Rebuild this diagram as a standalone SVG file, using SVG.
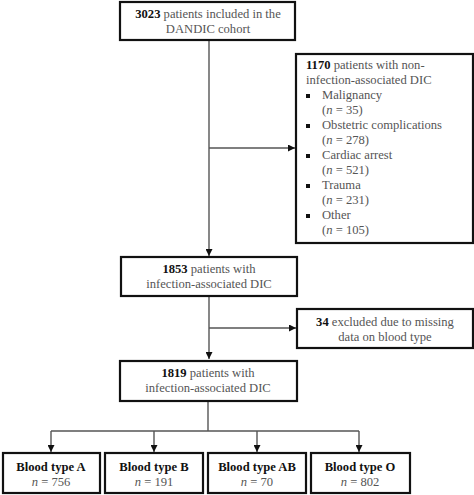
<svg xmlns="http://www.w3.org/2000/svg" width="474" height="495" viewBox="0 0 474 495" font-family="'Liberation Serif', 'DejaVu Serif', serif">
<style>
.box{fill:#fff;stroke:#111;stroke-width:2.2}
text{font-family:'Liberation Serif','DejaVu Serif',serif;font-size:12.6px;fill:#555}
.b{font-weight:bold;fill:#111}
.c{text-anchor:middle}
.ln{stroke:#555;stroke-width:1.4;fill:none}
</style>
<defs>
<marker id="ah" viewBox="0 0 10 10" refX="10" refY="5" markerWidth="7" markerHeight="7" markerUnits="userSpaceOnUse" orient="auto">
<path d="M0,0L10,5L0,10z" fill="#111"/>
</marker>
</defs>
<g id="connectors">
<line class="ln" x1="209" y1="40" x2="209" y2="256" marker-end="url(#ah)"/>
<line class="ln" x1="209" y1="148" x2="295" y2="148" marker-end="url(#ah)"/>
<line class="ln" x1="209" y1="296" x2="209" y2="359" marker-end="url(#ah)"/>
<line class="ln" x1="209" y1="328" x2="296" y2="328" marker-end="url(#ah)"/>
<line class="ln" x1="208" y1="401" x2="208" y2="431"/>
<line class="ln" x1="51" y1="431" x2="359" y2="431"/>
<line class="ln" x1="51" y1="431" x2="51" y2="452" marker-end="url(#ah)"/>
<line class="ln" x1="154" y1="431" x2="154" y2="452" marker-end="url(#ah)"/>
<line class="ln" x1="257" y1="431" x2="257" y2="452" marker-end="url(#ah)"/>
<line class="ln" x1="359" y1="431" x2="359" y2="452" marker-end="url(#ah)"/>
</g>
<g id="n3023">
<rect class="box" x="120" y="2" width="175" height="38"/>
<text class="c" x="208" y="18"><tspan class="b">3023</tspan> patients included in the</text>
<text class="c" x="208" y="33">DANDIC cohort</text>
</g>
<g id="n1170">
<rect class="box" x="296" y="54" width="177" height="189"/>
<text x="306" y="69"><tspan class="b">1170</tspan> patients with non-</text>
<text x="306" y="84">infection-associated DIC</text>
<g fill="#111">
<rect x="306" y="94" width="4" height="4"/>
<rect x="306" y="124" width="4" height="4"/>
<rect x="306" y="154" width="4" height="4"/>
<rect x="306" y="184" width="4" height="4"/>
<rect x="306" y="214" width="4" height="4"/>
</g>
<text x="322" y="99">Malignancy</text>
<text x="322" y="114">(<tspan font-style="italic">n</tspan> = 35)</text>
<text x="322" y="129">Obstetric complications</text>
<text x="322" y="144">(<tspan font-style="italic">n</tspan> = 278)</text>
<text x="322" y="159">Cardiac arrest</text>
<text x="322" y="174">(<tspan font-style="italic">n</tspan> = 521)</text>
<text x="322" y="189">Trauma</text>
<text x="322" y="204">(<tspan font-style="italic">n</tspan> = 231)</text>
<text x="322" y="219">Other</text>
<text x="322" y="234">(<tspan font-style="italic">n</tspan> = 105)</text>
</g>
<g id="n1853">
<rect class="box" x="121" y="257" width="176" height="39"/>
<text class="c" x="209" y="273"><tspan class="b">1853</tspan> patients with</text>
<text class="c" x="209" y="288">infection-associated DIC</text>
</g>
<g id="n34">
<rect class="box" x="297" y="309" width="176" height="39"/>
<text class="c" x="385" y="326"><tspan class="b">34</tspan> excluded due to missing</text>
<text class="c" x="385" y="341">data on blood type</text>
</g>
<g id="n1819">
<rect class="box" x="120" y="361" width="177" height="40"/>
<text class="c" x="208" y="377"><tspan class="b">1819</tspan> patients with</text>
<text class="c" x="208" y="392">infection-associated DIC</text>
</g>
<g id="nA">
<rect class="box" x="3" y="453" width="97" height="40"/>
<text class="c b" x="51" y="471">Blood type A</text>
<text class="c" x="51" y="486"><tspan font-style="italic">n</tspan> = 756</text>
</g>
<g id="nB">
<rect class="box" x="105" y="453" width="98" height="40"/>
<text class="c b" x="154" y="471">Blood type B</text>
<text class="c" x="154" y="486"><tspan font-style="italic">n</tspan> = 191</text>
</g>
<g id="nAB">
<rect class="box" x="208" y="453" width="98" height="40"/>
<text class="c b" x="257" y="471">Blood type AB</text>
<text class="c" x="257" y="486"><tspan font-style="italic">n</tspan> = 70</text>
</g>
<g id="nO">
<rect class="box" x="311" y="453" width="99" height="40"/>
<text class="c b" x="360" y="471">Blood type O</text>
<text class="c" x="360" y="486"><tspan font-style="italic">n</tspan> = 802</text>
</g>
</svg>
